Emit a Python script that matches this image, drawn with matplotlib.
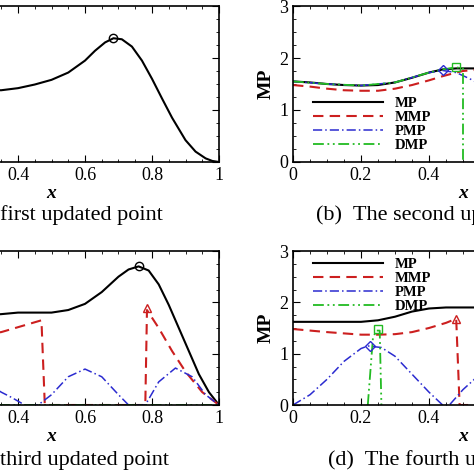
import matplotlib.pyplot as plt
from matplotlib.ticker import MultipleLocator

plt.rcParams['font.family'] = ['Liberation Serif', 'DejaVu Serif']

# (a) first updated point
a_x = [0.0, 0.1, 0.2, 0.3, 0.35, 0.4, 0.45, 0.5, 0.55, 0.6, 0.63, 0.66, 0.685, 0.71, 0.74, 0.77, 0.8, 0.83, 0.86, 0.9, 0.93, 0.96, 0.98, 1.0]
a_mp = [1.6, 1.5, 1.42, 1.38, 1.38, 1.42, 1.49, 1.58, 1.72, 1.95, 2.14, 2.3, 2.38, 2.36, 2.22, 1.95, 1.6, 1.22, 0.85, 0.42, 0.2, 0.07, 0.02, 0.0]
a_pt = (0.685, 2.38)

# (b) second updated point
b_x = [0.0, 0.05, 0.1, 0.15, 0.2, 0.25, 0.3, 0.35, 0.4, 0.44, 0.48, 0.5, 0.55]
b_mp = [1.55, 1.53, 1.5, 1.48, 1.47, 1.48, 1.53, 1.62, 1.72, 1.78, 1.8, 1.8, 1.8]
b_mmp = [1.48, 1.45, 1.41, 1.38, 1.37, 1.37, 1.41, 1.48, 1.57, 1.65, 1.72, 1.75, 1.78]
b_pmp_x = [0.0, 0.1, 0.2, 0.3, 0.4, 0.44, 0.48, 0.52, 0.55]
b_pmp = [1.55, 1.5, 1.47, 1.53, 1.72, 1.76, 1.72, 1.6, 1.5]
b_dmp_x = [0.0, 0.1, 0.2, 0.3, 0.4, 0.44, 0.48, 0.5, 0.5]
b_dmp = [1.55, 1.5, 1.47, 1.53, 1.72, 1.78, 1.82, 1.8, 0.0]
b_pts = {'PMP': (0.44, 1.76), 'DMP': (0.48, 1.82)}

# (c) third updated point
c_x = [0.0, 0.1, 0.2, 0.3, 0.35, 0.4, 0.45, 0.5, 0.55, 0.6, 0.65, 0.7, 0.73, 0.76, 0.79, 0.82, 0.85, 0.88, 0.91, 0.94, 0.97, 1.0]
c_mp = [1.6, 1.65, 1.7, 1.75, 1.77, 1.8, 1.8, 1.8, 1.85, 1.97, 2.2, 2.5, 2.64, 2.7, 2.62, 2.35, 1.95, 1.5, 1.05, 0.6, 0.25, 0.0]
c_mmp_x = [0.0, 0.1, 0.2, 0.3, 0.35, 0.47, 0.48, 0.78, 0.785, 0.82, 0.86, 0.9, 0.95, 1.0]
c_mmp = [1.1, 1.2, 1.3, 1.38, 1.42, 1.65, 0.0, 0.0, 1.85, 1.5, 1.05, 0.65, 0.25, 0.0]
c_pmp_x = [0.0, 0.1, 0.2, 0.3, 0.35, 0.38, 0.42, 0.46, 0.5, 0.55, 0.6, 0.65, 0.7, 0.73, 0.78, 0.82, 0.87, 0.92, 0.96, 1.0]
c_pmp = [0.0, 0.45, 0.65, 0.45, 0.25, 0.15, 0.0, 0.0, 0.2, 0.55, 0.7, 0.55, 0.2, 0.0, 0.0, 0.45, 0.72, 0.55, 0.2, 0.0]
c_dmp_x = [0.0, 1.0]
c_dmp = [0.0, 0.0]
c_pts = {'MP': (0.76, 2.7), 'MMP': (0.785, 1.88)}

# (d) fourth updated point
d_x = [0.0, 0.1, 0.2, 0.25, 0.3, 0.35, 0.4, 0.45, 0.5, 0.55]
d_mp = [1.62, 1.62, 1.62, 1.65, 1.72, 1.82, 1.88, 1.9, 1.9, 1.9]
d_mmp_x = [0.0, 0.1, 0.2, 0.25, 0.3, 0.35, 0.4, 0.45, 0.48, 0.49, 0.55]
d_mmp = [1.48, 1.42, 1.37, 1.37, 1.38, 1.42, 1.5, 1.6, 1.68, 0.0, 0.0]
d_pmp_x = [0.0, 0.05, 0.1, 0.15, 0.2, 0.22, 0.26, 0.3, 0.35, 0.4, 0.44, 0.46, 0.5, 0.55]
d_pmp = [0.0, 0.2, 0.5, 0.85, 1.1, 1.15, 1.12, 0.95, 0.6, 0.25, 0.0, 0.0, 0.3, 0.6]
d_dmp_x = [0.22, 0.235, 0.245, 0.255, 0.26]
d_dmp = [0.0, 1.3, 1.45, 1.45, 0.0]
d_pts = {'PMP': (0.225, 1.15), 'DMP': (0.25, 1.48), 'MMP': (0.48, 1.68)}

fig = plt.figure(figsize=(4.74, 4.74), dpi=100)
W = 474.0

def make_ax(left, top, width, height):
    return fig.add_axes([left / W, 1 - (top + height) / W, width / W, height / W])

axa = make_ax(-116, 6, 335, 156)
axb = make_ax(293, 6, 340, 156)
axc = make_ax(-116, 251, 335, 154)
axd = make_ax(293, 251, 340, 154)

styles = {
    'MP': dict(color='black', ls='-', lw=1.5),
    'MMP': dict(color='#cc1f1f', ls=(0, (5, 3)), lw=1.5),
    'PMP': dict(color='#2b2bd0', ls=(0, (6, 2, 1, 2)), lw=1.1),
    'DMP': dict(color='#22bb22', ls=(0, (6, 2, 1, 2, 1, 2)), lw=1.3),
}
markers = {'MP': 'o', 'MMP': '^', 'PMP': 'D', 'DMP': 's'}

def mark(ax, name, pt):
    ax.plot(*pt, marker=markers[name], ms=6 if name != 'PMP' else 5, mfc='none',
            mec=styles[name]['color'], ls='none')

axa.plot(a_x, a_mp, **styles['MP'])
mark(axa, 'MP', a_pt)

axb.plot(b_x, b_mp, label='MP', **styles['MP'])
axb.plot(b_x, b_mmp, label='MMP', **styles['MMP'])
axb.plot(b_pmp_x, b_pmp, label='PMP', **styles['PMP'])
axb.plot(b_dmp_x, b_dmp, label='DMP', **styles['DMP'])
for k, p in b_pts.items():
    mark(axb, k, p)
axb.legend(loc='lower left', bbox_to_anchor=(0.02, -0.02), frameon=False,
           prop={'weight': 'bold', 'size': 10.5}, handlelength=4.8, labelspacing=0.05)

axc.plot(c_x, c_mp, **styles['MP'])
axc.plot(c_mmp_x, c_mmp, **styles['MMP'])
axc.plot(c_pmp_x, c_pmp, **styles['PMP'])
axc.plot(c_dmp_x, c_dmp, **styles['DMP'])
for k, p in c_pts.items():
    mark(axc, k, p)

axd.plot(d_x, d_mp, label='MP', **styles['MP'])
axd.plot(d_mmp_x, d_mmp, label='MMP', **styles['MMP'])
axd.plot(d_pmp_x, d_pmp, label='PMP', **styles['PMP'])
axd.plot(d_dmp_x, d_dmp, label='DMP', **styles['DMP'])
for k, p in d_pts.items():
    mark(axd, k, p)
axd.legend(loc='upper left', bbox_to_anchor=(0.02, 1.04), frameon=False,
           prop={'weight': 'bold', 'size': 10.5}, handlelength=4.8, labelspacing=0.05)

for ax in (axa, axb, axc, axd):
    ax.set_xlim(0, 1)
    ax.set_ylim(0, 3)
    ax.xaxis.set_major_locator(MultipleLocator(0.2))
    ax.xaxis.set_minor_locator(MultipleLocator(0.05))
    ax.yaxis.set_major_locator(MultipleLocator(1))
    ax.yaxis.set_minor_locator(MultipleLocator(0.25))
    ax.tick_params(which='both', direction='in', top=True, right=True, labelsize=13)
    ax.tick_params(which='major', length=5)
    ax.tick_params(which='minor', length=2.5)
    ax.xaxis.set_major_formatter(plt.FuncFormatter(lambda v, p: f'{v:g}'))
    ax.set_xlabel('x', fontsize=14, style='italic', weight='bold', labelpad=1)
    for s in ax.spines.values():
        s.set_linewidth(1.2)

for ax in (axb, axd):
    ax.set_ylabel('MP', fontsize=14, weight='bold', labelpad=3)

fig.text(0.0, 1 - 215 / W, 'first updated point', fontsize=16, va='center')
fig.text(316 / W, 1 - 215 / W, '(b)  The second updated point', fontsize=16, va='center')
fig.text(0.0, 1 - 460 / W, 'third updated point', fontsize=16, va='center')
fig.text(328 / W, 1 - 460 / W, '(d)  The fourth updated point', fontsize=16, va='center')

fig.savefig('out.png', dpi=100)
